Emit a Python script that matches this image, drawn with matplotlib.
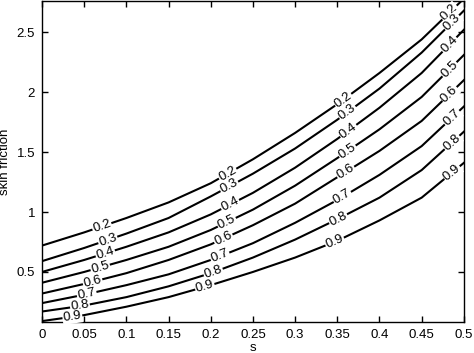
import numpy as np
import matplotlib
matplotlib.use("Agg")
import matplotlib.pyplot as plt
from matplotlib.ticker import FormatStrFormatter

plt.rcParams['font.family'] = ['Liberation Sans', 'DejaVu Sans']

# s grid and curves, one per contour level
s = [0, 0.05, 0.1, 0.15, 0.2, 0.25, 0.3, 0.35, 0.4, 0.45, 0.5]
levels = ['0.2', '0.3', '0.4', '0.5', '0.6', '0.7', '0.8', '0.9']
curves = [
    [0.72, 0.83, 0.95, 1.08, 1.24, 1.44, 1.66, 1.90, 2.16, 2.44, 2.78],
    [0.59, 0.70, 0.82, 0.95, 1.13, 1.32, 1.53, 1.77, 2.03, 2.33, 2.68],
    [0.50, 0.60, 0.71, 0.83, 0.98, 1.16, 1.37, 1.61, 1.87, 2.16, 2.52],
    [0.41, 0.50, 0.60, 0.71, 0.85, 1.02, 1.22, 1.45, 1.69, 1.96, 2.31],
    [0.32, 0.40, 0.49, 0.60, 0.73, 0.89, 1.07, 1.29, 1.51, 1.76, 2.10],
    [0.24, 0.31, 0.39, 0.48, 0.60, 0.74, 0.91, 1.10, 1.31, 1.55, 1.88],
    [0.17, 0.22, 0.29, 0.38, 0.49, 0.62, 0.77, 0.94, 1.12, 1.35, 1.67],
    [0.09, 0.14, 0.21, 0.29, 0.39, 0.50, 0.62, 0.76, 0.93, 1.12, 1.41],
]
# where the inline labels sit along s
label_s = [
    [0.071, 0.220, 0.357, 0.483],
    [0.078, 0.222, 0.362, 0.486],
    [0.075, 0.223, 0.363, 0.483],
    [0.069, 0.219, 0.362, 0.483],
    [0.060, 0.215, 0.360, 0.483],
    [0.053, 0.211, 0.356, 0.486],
    [0.045, 0.203, 0.351, 0.486],
    [0.036, 0.193, 0.347, 0.486],
]

fig = plt.figure(figsize=(4.74, 3.53), dpi=100)
ax = fig.add_axes([0.0886, 0.088, 0.890, 0.909])
ax.set_xlim(0, 0.5)
ax.set_ylim(0.083, 2.76)

for y, lab, ls in zip(curves, levels, label_s):
    ax.plot(s, y, color='black', lw=1.5, clip_on=True)
    for sl in ls:
        yl = np.interp(sl, s, y)
        p1 = ax.transData.transform((sl - 0.01, np.interp(sl - 0.01, s, y)))
        p2 = ax.transData.transform((sl + 0.01, np.interp(sl + 0.01, s, y)))
        ang = np.degrees(np.arctan2(p2[1] - p1[1], p2[0] - p1[0]))
        ax.text(sl, yl, lab, fontsize=9.5, rotation=ang, rotation_mode='anchor',
                ha='center', va='center',
                bbox=dict(fc='white', ec='none', pad=0.6), zorder=3)

ax.set_xticks(np.arange(0, 0.501, 0.05))
ax.set_yticks([0.5, 1, 1.5, 2, 2.5])
ax.xaxis.set_major_formatter(FormatStrFormatter('%g'))
ax.yaxis.set_major_formatter(FormatStrFormatter('%g'))
ax.tick_params(direction='in', top=True, right=True, length=4, width=1,
               labelsize=9.5, pad=5)
for sp in ax.spines.values():
    sp.set_linewidth(1)
ax.set_xlabel('s', fontsize=9.5, labelpad=1)
ax.set_ylabel('skin friction', fontsize=9.5, labelpad=4)

fig.savefig('out.png', dpi=100)
